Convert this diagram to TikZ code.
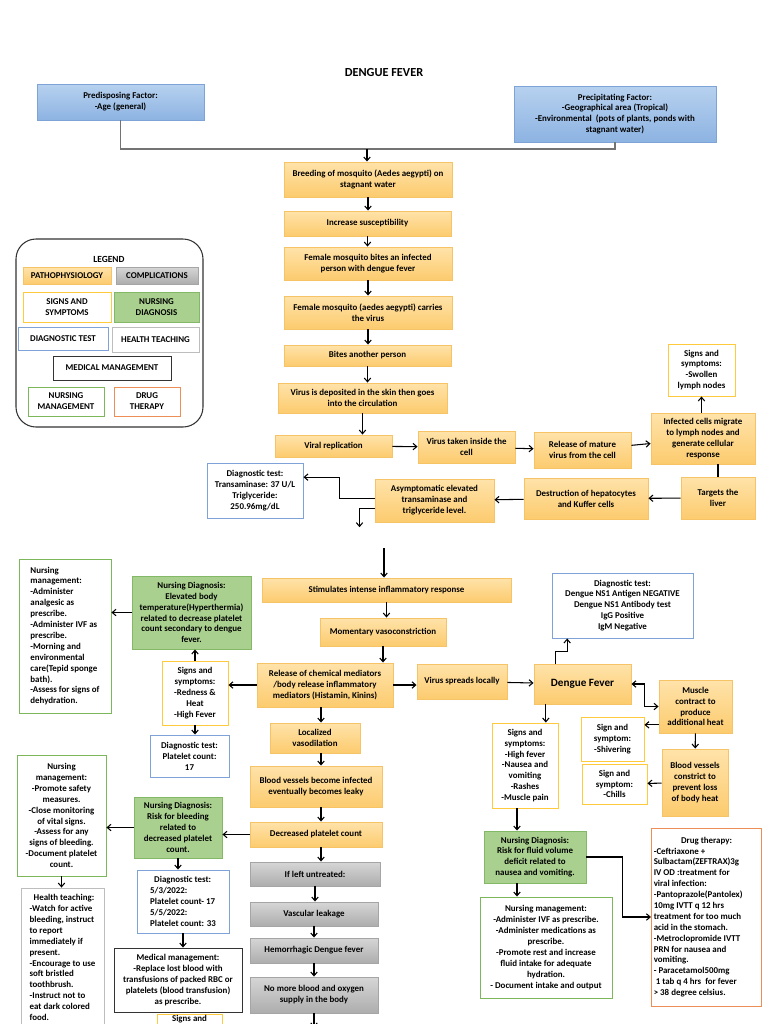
\documentclass[tikz,border=0pt]{standalone}
\usepackage{fontspec}
\setmainfont{Carlito}
\usepackage{tikz}
\usetikzlibrary{positioning,calc,arrows.meta}
\definecolor{orgtop}{HTML}{FFE3AA}
\definecolor{orgbot}{HTML}{FCCB6E}
\definecolor{orgedge}{HTML}{F6C467}
\definecolor{grytop}{HTML}{D6D6D6}
\definecolor{grybot}{HTML}{ADADAD}
\definecolor{gryedge}{HTML}{A5A5A5}
\definecolor{blutop}{HTML}{B7D1EF}
\definecolor{blubot}{HTML}{8DB3E2}
\definecolor{bluedge}{HTML}{7EA3D6}
\definecolor{grnfill}{HTML}{A9D08E}
\definecolor{grnedge}{HTML}{82B866}
\definecolor{sxedge}{HTML}{FFCB3D}
\definecolor{dxedge}{HTML}{7FA3D9}
\definecolor{nmedge}{HTML}{7DB75B}
\definecolor{drugedge}{HTML}{EE8E57}
\definecolor{teachedge}{HTML}{BDBDBD}
\definecolor{medge}{HTML}{333333}
\newcommand{\boxfont}{\bfseries\fontsize{7.6}{9.3}\selectfont}
\tikzset{
  box/.style={inner sep=2pt, align=center, font=\boxfont, line width=0.8pt},
  pathbox/.style={box, draw=orgedge, top color=orgtop, bottom color=orgbot},
  compbox/.style={box, draw=gryedge, top color=grytop, bottom color=grybot},
  factorbox/.style={box, draw=bluedge, top color=blutop, bottom color=blubot},
  signbox/.style={box, draw=sxedge, fill=white},
  nursdx/.style={box, draw=grnedge, fill=grnfill},
  diagbox/.style={box, draw=dxedge, fill=white},
  nursmg/.style={box, draw=nmedge, fill=white},
  teachbox/.style={box, draw=teachedge, fill=white},
  medbox/.style={box, draw=medge, fill=white},
  drugbox/.style={box, draw=drugedge, fill=white},
  legendbox/.style={draw=black!80, line width=0.9pt, rounded corners=0.6cm},
  arr/.style={-{Straight Barb[length=3.2pt,width=5.5pt]}, line width=0.9pt},
  twoarr/.style={{Straight Barb[length=3.2pt,width=5.5pt]}-{Straight Barb[length=3.2pt,width=5.5pt]}, line width=0.9pt},
  factline/.style={draw=black!55, line width=0.9pt}
}
% box from (x1,y1) to (x2,y2), pixel units
\newcommand{\mapbox}[7]{%
  \pgfmathsetmacro{\mbw}{(#5-#3)*0.03}%
  \pgfmathsetmacro{\mbh}{(#6-#4)*0.03}%
  \node[#1, minimum width=\mbw cm, minimum height=\mbh cm] (#2)
    at ({(#3+#5)/2},{(#4+#6)/2}) {#7};}

\begin{document}
\begin{tikzpicture}[x=0.03cm, y=-0.03cm]
  \useasboundingbox (0,0) rectangle (768,1024);
  \node[font=\bfseries\fontsize{10.5}{12}\selectfont] (title) at (384,73) {DENGUE FEVER};

  % factors
  \mapbox{factorbox}{pre}{37}{84}{204}{120}{Predisposing Factor:\\-Age (general)}
  \mapbox{factorbox}{prec}{514}{86}{716}{142}{Precipitating Factor:\\-Geographical area (Tropical)\\-Environmental\ \ (pots of plants, ponds with\\stagnant water)}
  \coordinate (join) at (367,149);
  \draw[factline] (pre.south) |- (join) -| (prec.south);

  % legend
  \mapbox{legendbox}{legend}{16}{239}{203}{427}{}
  \node[box, font=\bfseries\fontsize{8}{9}\selectfont] (lgtitle) at (109,259) {LEGEND};
  \mapbox{pathbox}{lgpath}{23}{267}{111}{284}{PATHOPHYSIOLOGY}
  \mapbox{compbox}{lgcomp}{116}{267}{198}{284}{COMPLICATIONS}
  \mapbox{signbox}{lgsign}{23}{292}{111}{322}{SIGNS AND\\SYMPTOMS}
  \mapbox{nursdx}{lgndx}{114}{292}{199}{322}{NURSING\\DIAGNOSIS}
  \mapbox{diagbox}{lgdiag}{18}{327}{108}{350}{DIAGNOSTIC TEST}
  \mapbox{teachbox}{lgteach}{112}{327}{199}{352}{HEALTH TEACHING}
  \mapbox{medbox}{lgmed}{53}{356}{171}{380}{MEDICAL MANAGEMENT}
  \mapbox{nursmg}{lgnm}{28}{387}{104}{416}{NURSING\\MANAGEMENT}
  \mapbox{drugbox}{lgdrug}{114}{387}{180}{416}{DRUG\\THERAPY}

  % main chain
  \mapbox{pathbox}{breed}{284}{162}{452}{197}{Breeding of mosquito (Aedes aegypti) on\\stagnant water}
  \mapbox{pathbox}{susc}{284}{211}{451}{236}{Increase susceptibility}
  \mapbox{pathbox}{bite}{284}{247}{452}{280}{Female mosquito bites an infected\\person with dengue fever}
  \mapbox{pathbox}{carry}{284}{296}{452}{329}{Female mosquito (aedes aegypti) carries\\the virus}
  \mapbox{pathbox}{bitetwo}{284}{345}{451}{366}{Bites another person}
  \mapbox{pathbox}{depo}{278}{383}{447}{413}{Virus is deposited in the skin then goes\\into the circulation}
  \mapbox{pathbox}{repl}{275}{435}{392}{457}{Viral replication}
  \mapbox{pathbox}{taken}{418}{431}{515}{463}{Virus taken inside the\\cell}
  \mapbox{pathbox}{mature}{534}{432}{631}{468}{Release of mature\\virus from the cell}
  \mapbox{pathbox}{migr}{651}{413}{755}{464}{Infected cells migrate\\to lymph nodes and\\generate cellular\\response}
  \mapbox{signbox}{lymph}{668}{344}{735}{396}{Signs and\\symptoms:\\-Swollen\\lymph nodes}
  \mapbox{pathbox}{liver}{681}{477}{755}{519}{Targets the\\liver}
  \mapbox{pathbox}{hepa}{524}{478}{648}{519}{Destruction of hepatocytes\\and Kuffer cells}
  \mapbox{pathbox}{asym}{375}{479}{494}{522}{Asymptomatic elevated\\transaminase and\\triglyceride level.}
  \mapbox{diagbox}{dxliv}{207}{463}{303}{518}{Diagnostic test:\\Transaminase: 37 U/L\\Triglyceride:\\250.96mg/dL}

  \draw[arr] (join) -- (join |- breed.north);
  \foreach \a/\b in {breed/susc, susc/bite, bite/carry, carry/bitetwo, bitetwo/depo, depo/repl}
    \draw[arr] (\a.south) -- (\a.south |- \b.north);
  \draw[arr] (repl) -- (taken);
  \draw[arr] (taken) -- (mature);
  \draw[arr] (mature) -- (migr);
  \draw[arr] (migr.north -| lymph.south) -- (lymph.south);
  \draw[line width=0.9pt] (migr.south -| liver.north) -- (liver.north);
  \draw[arr] (liver) -- (hepa);
  \draw[arr] (hepa) -- (asym);
  \draw[arr] ([yshift=0.07cm]asym.west) -- ++(-35,0) |- ([yshift=0.4cm]dxliv.east);
  \draw[arr] ([yshift=-0.23cm]asym.west) -- ++(-15,0) -- ++(0,19);

  % second part
  \mapbox{pathbox}{stim}{262}{578}{511}{602}{Stimulates intense inflammatory response}
  \mapbox{pathbox}{vaso}{320}{618}{446}{646}{Momentary vasoconstriction}
  \mapbox{pathbox}{chem}{257}{663}{393}{707}{Release of chemical mediators\\/body release inflammatory\\mediators (Histamin, Kinins)}
  \mapbox{pathbox}{spread}{417}{664}{507}{699}{Virus spreads locally}
  \mapbox{pathbox, font=\bfseries\fontsize{9.5}{11}\selectfont}{fever}{534}{664}{631}{704}{Dengue Fever}
  \mapbox{diagbox}{dxns}{552}{573}{693}{638}{Diagnostic test:\\Dengue NS1 Antigen NEGATIVE\\Dengue NS1 Antibody test\\IgG Positive\\IgM Negative}
  \mapbox{pathbox}{muscle}{659}{680}{732}{733}{Muscle\\contract to\\produce\\additional heat}
  \mapbox{signbox}{shiver}{581}{717}{644}{761}{Sign and\\symptom:\\-Shivering}
  \mapbox{pathbox}{constr}{662}{749}{728}{816}{Blood vessels\\constrict to\\prevent loss\\of body heat}
  \mapbox{signbox}{chills}{582}{764}{647}{804}{Sign and\\symptom:\\-Chills}
  \mapbox{signbox}{sxfev}{492}{723}{558}{808}{Signs and\\symptoms:\\-High fever\\-Nausea and\\vomiting\\-Rashes\\-Muscle pain}
  \mapbox{nursdx}{ndfluid}{484}{831}{586}{883}{Nursing Diagnosis:\\Risk for fluid volume\\deficit related to\\nausea and vomiting.}
  \mapbox{drugbox, align=left}{drug}{652}{828}{761}{1006}{\makebox[90pt]{Drug therapy:}\\-Ceftriaxone +\\Sulbactam(ZEFTRAX)3g\\IV OD :treatment for\\viral infection:\\-Pantoprazole(Pantolex)\\10mg IVTT q 12 hrs\\treatment for too much\\acid in the stomach.\\-Metroclopromide IVTT\\PRN for nausea and\\vomiting.\\- Paracetamol500mg\\\ 1 tab q 4 hrs\ \ for fever\\> 38 degree celsius.}
  \mapbox{nursmg}{nmfluid}{480}{897}{612}{998}{Nursing management:\\-Administer IVF as prescribe.\\-Administer medications as\\prescribe.\\-Promote rest and increase\\fluid intake for adequate\\hydration.\\- Document intake and output}

  \mapbox{signbox}{sxred}{162}{661}{228}{725}{Signs and\\symptoms:\\-Redness \&\\Heat\\-High Fever}
  \mapbox{nursdx}{ndtemp}{132}{576}{251}{649}{Nursing Diagnosis:\\Elevated body\\temperature(Hyperthermia)\\related to decrease platelet\\count secondary to dengue\\fever.}
  \mapbox{nursmg, align=left}{nmtemp}{19}{559}{111}{713}{Nursing\\management:\\-Administer\\analgesic as\\prescribe.\\-Administer IVF as\\prescribe.\\-Morning and\\environmental\\care(Tepid sponge\\bath).\\-Assess for signs of\\dehydration.}
  \mapbox{diagbox}{dxplt}{150}{735}{229}{777}{Diagnostic test:\\Platelet count:\\17}
  \mapbox{pathbox}{local}{270}{723}{360}{753}{Localized\\vasodilation}
  \mapbox{pathbox}{leaky}{250}{766}{382}{807}{Blood vessels become infected\\eventually becomes leaky}
  \mapbox{pathbox}{decr}{250}{822}{382}{847}{Decreased platelet count}
  \mapbox{nursdx}{ndbleed}{134}{797}{222}{858}{Nursing Diagnosis:\\Risk for bleeding\\related to\\decreased platelet\\count.}
  \mapbox{nursmg}{nmbleed}{17}{755}{106}{876}{Nursing\\management:\\-Promote safety\\measures.\\-Close monitoring\\of vital signs.\\-Assess for any\\signs of bleeding.\\-Document platelet\\count.}
  \mapbox{teachbox, align=left, inner sep=1pt}{teach}{21}{888}{104}{1027}{\ \ Health teaching:\\-Watch for active\\bleeding, instruct\\to report\\immediately if\\present.\\-Encourage to use\\soft bristled\\toothbrush.\\-Instruct not to\\eat dark colored\\food.}
  \mapbox{diagbox, align=left}{dxdate}{137}{870}{229}{933}{\ \ Diagnostic test:\\5/3/2022:\\Platelet count- 17\\5/5/2022:\\Platelet count: 33}
  \mapbox{medbox}{medmg}{114}{948}{242}{1012}{Medical management:\\-Replace lost blood with\\transfusions of packed RBC or\\platelets (blood transfusion)\\as prescribe.}
  \mapbox{signbox}{sxlast}{157}{1014}{222}{1040}{}
  \node[box, anchor=north, inner sep=1pt] (sxlasttxt) at (sxlast.north) {Signs and};
  \mapbox{compbox}{untr}{250}{862}{380}{886}{If left untreated:}
  \mapbox{compbox}{leak}{250}{902}{378}{926}{Vascular leakage}
  \mapbox{compbox}{hemo}{250}{938}{378}{963}{Hemorrhagic Dengue fever}
  \mapbox{compbox}{nomore}{250}{977}{378}{1013}{No more blood and oxygen\\supply in the body}

  \coordinate (cont) at (384,548);
  \coordinate (spine) at (321,0);
  \draw[arr] (cont) -- (cont |- stim.north);
  \draw[arr] (stim.south) -- (stim.south |- vaso.north);
  \draw[arr] (vaso.south) -- (vaso.south |- chem.north);
  \draw[arr] (chem.east) -- (chem.east -| spread.west);
  \draw[arr] (spread) -- (fever);
  \draw[arr] ([xshift=-0.8cm]fever.north) -- ++(0,-12) -| ([xshift=-1.66cm]dxns.south);
  \draw[twoarr] (fever.east) -- ++(13,0) |- (muscle.west);
  \draw[arr] ([yshift=-0.55cm]muscle.west) -- ([yshift=-0.55cm]muscle.west -| shiver.east);
  \draw[arr] (muscle) -- (constr);
  \draw[arr] (constr) -- (chills);
  \draw[arr] ([xshift=-1.1cm]fever.south) -- ([xshift=-1.1cm]fever.south |- sxfev.north);
  \draw[arr] ([xshift=-0.24cm]sxfev.south) -- ([xshift=-0.24cm]sxfev.south |- ndfluid.north);
  \draw[arr] (ndfluid.east) -- ++(36,0) |- (drug.west);
  \draw[arr] ([xshift=-0.54cm]ndfluid.south) -- ([xshift=-0.54cm]ndfluid.south |- nmfluid.north);
  \draw[arr] (chem.west) -- (chem.west -| sxred.east);
  \draw[arr] (sxred.north) -- (sxred.north |- ndtemp.south);
  \draw[arr] (ndtemp.west) -- (ndtemp.west -| nmtemp.east);
  \draw[arr] (sxred.south) -- (sxred.south |- dxplt.north);
  \draw[arr] (chem.south -| spine) -- (local.north -| spine);
  \draw[arr] (local.south -| spine) -- (leaky.north -| spine);
  \draw[arr] (leaky.south -| spine) -- (decr.north -| spine);
  \draw[arr] (decr.south -| spine) -- (untr.north -| spine);
  \foreach \a/\b in {untr/leak, leak/hemo, hemo/nomore}
    \draw[arr] (\a.south) -- (\a.south |- \b.north);
  \draw[arr] (nomore.south) -- ++(0,14);
  \draw[arr] (decr.west) -- (decr.west -| ndbleed.east);
  \draw[arr] (ndbleed.west) -- (ndbleed.west -| nmbleed.east);
  \draw[arr] (nmbleed.south) -- (nmbleed.south |- teach.north);
  \draw[arr] (ndbleed.south) -- (ndbleed.south |- dxdate.north);
  \draw[arr] (dxdate.south) -- (dxdate.south |- medmg.north);
\end{tikzpicture}
\end{document}
